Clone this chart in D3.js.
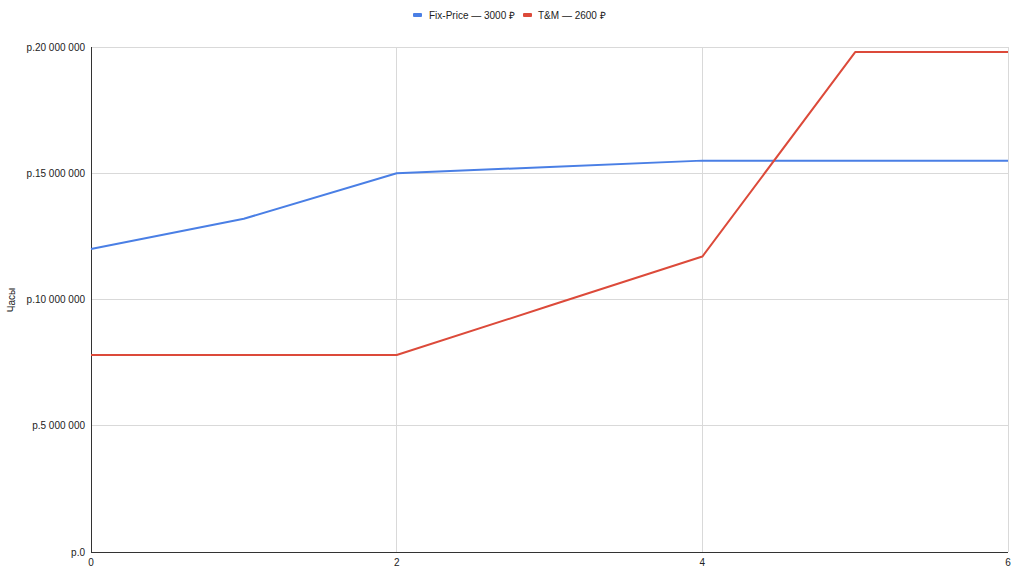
<!DOCTYPE html>
<html><head><meta charset="utf-8">
<script src="https://cdn.jsdelivr.net/npm/d3@7"></script>
<style>body{margin:0;background:#fff;font-family:Arial,"Liberation Sans",sans-serif;}</style>
</head><body>
<svg id="c" width="1024" height="569"></svg>
<script>
const xValues = [0,1,2,3,4,5,6];
const fixPrice = [12000000,13200000,15000000,15250000,15500000,15500000,15500000];
const tm = [7800000,7800000,7800000,9750000,11700000,19800000,19800000];
const xTicks = [0,2,4,6];
const yTicks = [0,5000000,10000000,15000000,20000000];
const seriesNames = ["Fix-Price — 3000 ₽","T&M — 2600 ₽"];
const colors = ["#4a7fe5","#dc4a3a"];

const svg = d3.select("#c");
const L=91,R=1008,T=47,B=552;
const x = d3.scaleLinear().domain([0,6]).range([L,R]);
const y = d3.scaleLinear().domain([0,20000000]).range([B,T]);
const fmt = v => "р." + d3.format(",")(v).replace(/,/g," ");

// grid
svg.append("g").selectAll("line").data(yTicks).join("line")
  .attr("x1",L).attr("x2",R).attr("y1",d=>y(d)).attr("y2",d=>y(d))
  .attr("stroke","#d9d9d9").attr("stroke-width",1).attr("shape-rendering","crispEdges");
svg.append("g").selectAll("line").data(xTicks).join("line")
  .attr("x1",d=>x(d)).attr("x2",d=>x(d)).attr("y1",T).attr("y2",B)
  .attr("stroke","#d9d9d9").attr("stroke-width",1).attr("shape-rendering","crispEdges");

// axes lines
svg.append("line").attr("x1",L).attr("x2",L).attr("y1",T).attr("y2",B).attr("stroke","#333").attr("shape-rendering","crispEdges");
svg.append("line").attr("x1",L).attr("x2",R).attr("y1",B).attr("y2",B).attr("stroke","#333").attr("shape-rendering","crispEdges");

// labels
svg.append("g").selectAll("text").data(yTicks).join("text")
  .attr("x",L-6).attr("y",d=>y(d)+3.5).attr("text-anchor","end")
  .attr("font-size",10).attr("fill","#222").text(fmt);
svg.append("g").selectAll("text").data(xTicks).join("text")
  .attr("x",d=>x(d)).attr("y",B+14).attr("text-anchor","middle")
  .attr("font-size",10).attr("fill","#222").text(d=>d);

svg.append("text").attr("transform","translate(15,300) rotate(-90)")
  .attr("text-anchor","middle").attr("font-size",10).attr("fill","#222").text("Часы");

// lines
const line = d3.line().x((d,i)=>x(xValues[i])).y(d=>y(d));
[fixPrice,tm].forEach((s,i)=>{
  svg.append("path").datum(s).attr("d",line).attr("fill","none")
    .attr("stroke",colors[i]).attr("stroke-width",2).attr("stroke-linejoin","round");
});

// legend
const leg = [{x:413,tx:429},{x:523,tx:538}];
seriesNames.forEach((n,i)=>{
  svg.append("rect").attr("x",leg[i].x).attr("y",13).attr("width",9).attr("height",4).attr("rx",1).attr("fill",colors[i]);
  svg.append("text").attr("x",leg[i].tx).attr("y",18.5).attr("font-size",10).attr("fill","#222").text(n);
});
</script>
</body></html>
